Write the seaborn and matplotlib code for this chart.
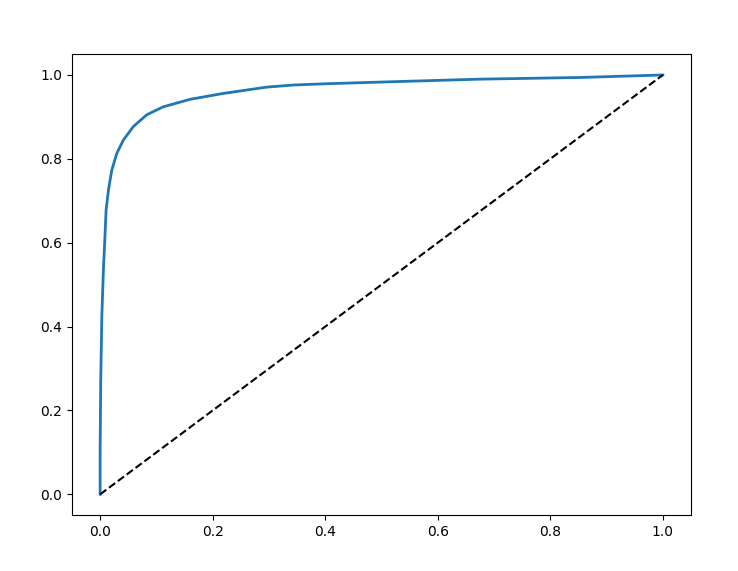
import matplotlib
matplotlib.use("Agg")
import matplotlib.pyplot as plt
import seaborn as sns
import pandas as pd

fpr = [0.0, 0.0, 0.001, 0.003, 0.006, 0.0075, 0.0106, 0.0148, 0.0207, 0.0296,
       0.0414, 0.059, 0.0828, 0.112, 0.160, 0.219, 0.296, 0.343, 0.40, 0.497,
       0.674, 0.852, 1.0]
tpr = [0.0, 0.106, 0.265, 0.424, 0.543, 0.583, 0.678, 0.726, 0.773, 0.813,
       0.845, 0.877, 0.905, 0.924, 0.942, 0.956, 0.971, 0.976, 0.979, 0.983,
       0.990, 0.994, 1.0]
chance = [0.0, 1.0]

df = pd.DataFrame({"fpr": fpr, "tpr": tpr})

fig = plt.figure(figsize=(7.38, 5.71), dpi=100)
ax = fig.add_axes([72 / 738, 1 - 515.3 / 571, (691 - 72) / 738, (515.3 - 54) / 571])

sns.lineplot(data=df, x="fpr", y="tpr", sort=False, estimator=None,
             linewidth=2, color="#1f77b4", ax=ax)
sns.lineplot(x=chance, y=chance, color="k", linestyle="--", linewidth=1.5, ax=ax)

ax.set_xlim(-0.05, 1.05)
ax.set_ylim(-0.05, 1.05)
ax.set_xticks([0.0, 0.2, 0.4, 0.6, 0.8, 1.0])
ax.set_yticks([0.0, 0.2, 0.4, 0.6, 0.8, 1.0])
ax.set_xlabel("")
ax.set_ylabel("")

fig.savefig("out.png", dpi=100)
